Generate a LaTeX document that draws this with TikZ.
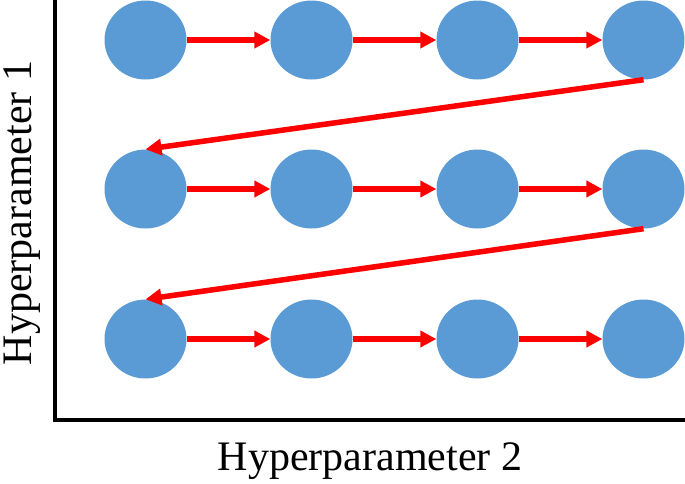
\documentclass[tikz,border=0pt]{standalone}
\usepackage{fontspec}
\setmainfont{Liberation Serif}
\usetikzlibrary{shapes.geometric,arrows.meta}
\definecolor{dotblue}{HTML}{5B9BD5}
\definecolor{arrred}{HTML}{FF0000}
\tikzset{
  dot/.style={ellipse,fill=dotblue,draw=none,minimum width=82pt,minimum height=79pt,inner sep=0pt},
  stepline/.style={draw=arrred,line width=5.5pt,-{Triangle[length=16pt,width=16pt]},shorten >=0pt},
  axis/.style={draw=black,line width=4pt,line join=miter},
  lbl/.style={inner sep=0pt,font=\fontsize{42}{48}\selectfont}
}
\begin{document}
\begin{tikzpicture}[x=1pt,y=-1pt]
\useasboundingbox (0,0) rectangle (685,483);
% axes
\coordinate (top) at (55,0);
\coordinate (corner) at (55,420);
\coordinate (right) at (685,420);
\draw[axis] (top) -- (corner) -- (right);
% dots
\foreach \r/\yy in {1/40,2/189,3/339}{
  \foreach \c/\xx in {1/145.5,2/311.5,3/477.5,4/643.5}{
    \node[dot] (c\r\c) at (\xx,\yy) {};
  }
}
% horizontal arrows
\foreach \r in {1,2,3}{
  \draw[stepline] (c\r1.east) -- (c\r2.west);
  \draw[stepline] (c\r2.east) -- (c\r3.west);
  \draw[stepline] (c\r3.east) -- (c\r4.west);
}
% diagonal arrows
\draw[stepline] (c14.south) -- (c21.north);
\draw[stepline] (c24.south) -- (c31.north);
% labels
\node[lbl,anchor=base] (xl) at (370,470) {Hyperparameter 2};
\node[lbl,anchor=base,rotate=90] (yl) at (31,213) {Hyperparameter 1};
\end{tikzpicture}
\end{document}
